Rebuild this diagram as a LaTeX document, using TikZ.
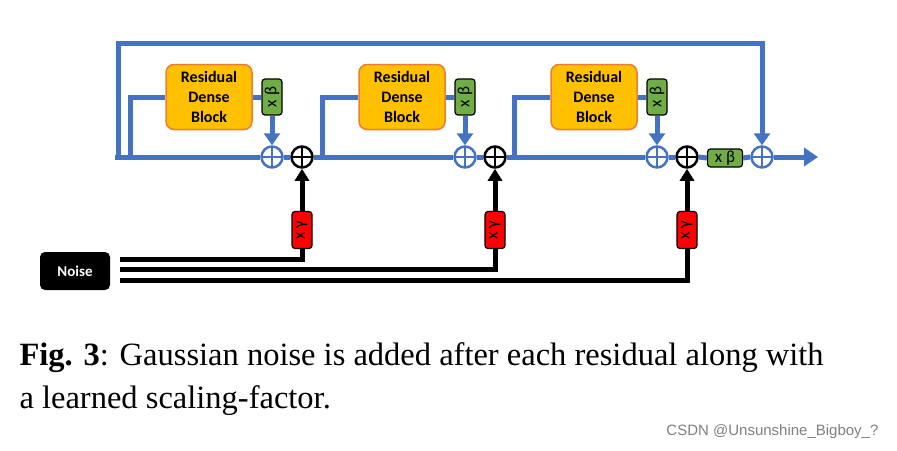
\documentclass[tikz,border=0pt]{standalone}
\usepackage{fontspec}
\setmainfont{Liberation Serif}
\newfontfamily\carl{Carlito}
\newfontfamily\wmfont{Liberation Sans}
\usetikzlibrary{arrows.meta}
\definecolor{flowblue}{RGB}{68,114,196}
\definecolor{rdbfill}{RGB}{255,192,0}
\definecolor{rdbdraw}{RGB}{237,125,49}
\definecolor{betafill}{RGB}{112,173,71}
\begin{document}
\begin{tikzpicture}[x=1pt,y=1pt]
\tikzstyle{rdb}=[draw=rdbdraw,fill=rdbfill,line width=1.5pt,rounded corners=8pt,minimum width=86pt,minimum height=65pt,inner sep=0pt,align=center,font=\carl\bfseries\fontsize{16}{20}\selectfont]
\tikzstyle{beta}=[draw=black,fill=betafill,line width=1.2pt,rounded corners=3pt,minimum width=35pt,minimum height=18pt,inner sep=0pt,font=\carl\fontsize{17}{17}\selectfont]
\tikzstyle{vbeta}=[beta,minimum width=20pt,minimum height=36pt]
\tikzstyle{gam}=[vbeta,fill=red,minimum height=37pt]
\tikzstyle{bplus}=[draw=flowblue,fill=white,circle,line width=2.5pt,minimum size=21pt,inner sep=0pt,path picture={\draw[flowblue,line width=2.5pt] (path picture bounding box.north) -- (path picture bounding box.south) (path picture bounding box.west) -- (path picture bounding box.east);}]
\tikzstyle{kplus}=[bplus,draw=black,path picture={\draw[black,line width=2.5pt] (path picture bounding box.north) -- (path picture bounding box.south) (path picture bounding box.west) -- (path picture bounding box.east);}]
\tikzstyle{blue}=[flowblue,line width=5pt]
\tikzstyle{noise}=[black,line width=5pt]
\useasboundingbox (0,-450) rectangle (897,0);

% main trunk
\coordinate (in) at (115,-157);
\node[bplus] (end) at (762,-157) {};
\coordinate (out) at (818,-157);
\node[beta] (bfin) at (725,-158) {x β};

% blocks
\foreach \i/\x/\s in {1/215/130,2/408/322,3/600/514}{
  \node[rdb] (rdb\i) at (\x-6,-97) {Residual\\Dense\\Block};
  \node[vbeta] (b\i) at (\x+57,-97) {\rotatebox{90}{x β}};
  \node[bplus] (bp\i) at (\x+57,-157) {};
  \node[kplus] (kp\i) at (\x+87,-157) {};
  \node[gam] (g\i) at (\x+87,-230) {\rotatebox{90}{x γ}};
  \coordinate (s\i) at (\s,-157);
  \draw[blue] (s\i) |- (rdb\i.west);
  \draw[blue] (rdb\i.east) -- (b\i.west);
  \draw[blue,-{Triangle[length=12pt,width=16pt]}] (b\i.south) -- (bp\i.north);
  \draw[blue] (bp\i) -- (kp\i);
}
\draw[blue] (in) -- (bp1.west);
\draw[blue] (kp1.east) -- (bp2.west);
\draw[blue] (kp2.east) -- (bp3.west);
\draw[blue] (kp3.east) -- (bfin.west);
\draw[blue] (bfin.east) -- (end.west);
\draw[blue,-{Triangle[length=14pt,width=18pt]}] (end.east) -- (out);
\draw[blue,-{Triangle[length=12pt,width=16pt]}] (118,-157) |- (762,-43) -- (end.north);

% noise
\node[fill=black,rounded corners=5pt,minimum width=70pt,minimum height=38pt,text=white,font=\carl\bfseries\fontsize{15}{15}\selectfont] (noise) at (75,-271) {Noise};
\foreach \i/\y in {1/259,2/269,3/280}{
  \draw[noise] (120,-\y) -| (g\i.south);
  \draw[noise,-{Triangle[length=12pt,width=14pt]}] (g\i.north) -- (kp\i.south);
}

% caption
\node[anchor=west,font=\fontsize{32.5}{43}\selectfont,align=left] (cap) at (16,-379) {\textbf{Fig. 3}: Gaussian noise is added after each residual along with\\a learned scaling-factor.};
\node[anchor=east,text=gray,font=\wmfont\fontsize{15}{15}\selectfont] (wm) at (882,-432) {CSDN @Unsunshine\_Bigboy\_?};
\end{tikzpicture}
\end{document}
